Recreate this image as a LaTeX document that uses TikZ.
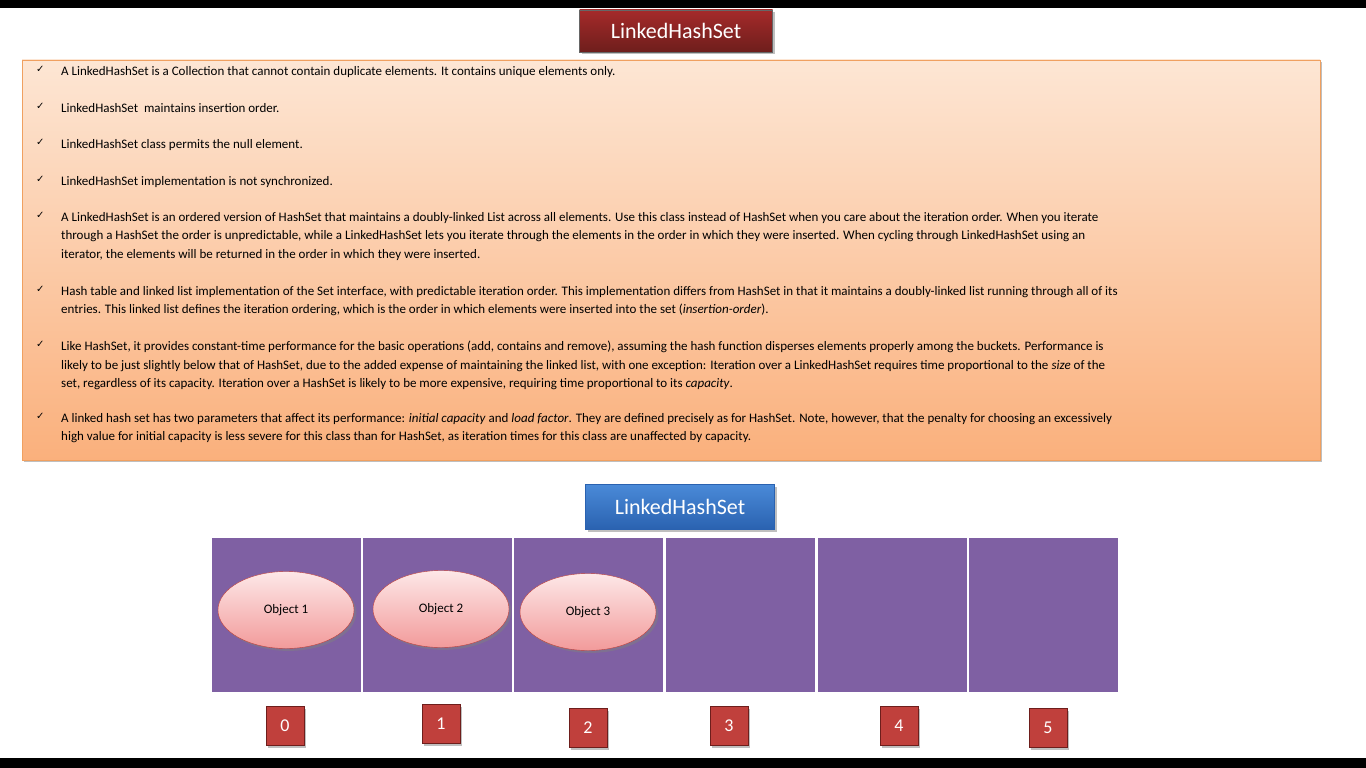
\documentclass[tikz,border=0pt]{standalone}
\usepackage{fontspec}
\setmainfont{Carlito}
\newfontfamily\symfont{DejaVu Sans}
\usetikzlibrary{shapes.geometric,shadows}
\definecolor{peachT}{HTML}{FDE6D4}
\definecolor{peachB}{HTML}{FAB07C}
\definecolor{peachE}{HTML}{F0A060}
\definecolor{redT}{HTML}{A52A2A}
\definecolor{redB}{HTML}{6E1E1C}
\definecolor{blueT}{HTML}{4A8AD8}
\definecolor{blueB}{HTML}{2A62B0}
\definecolor{purp}{HTML}{7F60A3}
\definecolor{pinkT}{HTML}{FDE8E8}
\definecolor{pinkB}{HTML}{F29A9A}
\definecolor{numred}{HTML}{C0403C}
\tikzset{
  titlebox/.style={draw=black!60,top color=redT,bottom color=redB,text=white,font=\fontsize{22}{26}\selectfont,minimum width=193pt,minimum height=42pt,inner sep=0pt,drop shadow},
  bluebox/.style={draw=blueB,top color=blueT,bottom color=blueB,text=white,font=\fontsize{22}{26}\selectfont,minimum width=189pt,minimum height=45pt,inner sep=0pt,drop shadow},
  bul/.style={anchor=north west,align=left,inner sep=0pt,font=\fontsize{13}{18.5}\selectfont},
  chk/.style={anchor=north west,inner sep=0pt,font=\symfont\fontsize{10}{18.5}\selectfont},
  cell/.style={fill=purp,draw=white,line width=1.5pt,minimum width=151pt,minimum height=156pt,anchor=north west,inner sep=0pt},
  obj/.style={ellipse,draw=numred,top color=pinkT,bottom color=pinkB,minimum width=136pt,minimum height=77pt,font=\fontsize{13}{15}\selectfont,inner sep=0pt,drop shadow},
  num/.style={fill=numred,draw=redB,text=white,minimum width=38pt,minimum height=39pt,inner sep=0pt,font=\fontsize{18}{20}\selectfont,drop shadow}
}
\begin{document}
\begin{tikzpicture}[x=1pt,y=-1pt]
\useasboundingbox (0,0) rectangle (1366,768);
\fill[white] (0,0) rectangle (1366,768);
\fill[black] (0,0) rectangle (1366,8);
\fill[black] (0,758) rectangle (1366,768);
\node[titlebox] (t1) at (676,31) {LinkedHashSet};
\shade[top color=peachT,bottom color=peachB,draw=peachE,drop shadow] (22,60) rectangle (1320,460);
\foreach \y in {66,103,139,176,212,286,341,413} {\node[chk] at (36,\y) {✓};}
\node[bul] (b1) at (61,66) {A LinkedHashSet is a Collection that cannot contain duplicate elements. It contains unique elements only.};
\node[bul] (b2) at (61,103) {LinkedHashSet\ \ maintains insertion order.};
\node[bul] (b3) at (61,139) {LinkedHashSet class permits the null element.};
\node[bul] (b4) at (61,176) {LinkedHashSet implementation is not synchronized.};
\node[bul] (b5) at (61,212) {A LinkedHashSet is an ordered version of HashSet that maintains a doubly-linked List across all elements. Use this class instead of HashSet when you care about the iteration order. When you iterate\\through a HashSet the order is unpredictable, while a LinkedHashSet lets you iterate through the elements in the order in which they were inserted. When cycling through LinkedHashSet using an\\iterator, the elements will be returned in the order in which they were inserted.};
\node[bul] (b6) at (61,286) {Hash table and linked list implementation of the Set interface, with predictable iteration order. This implementation differs from HashSet in that it maintains a doubly-linked list running through all of its\\entries. This linked list defines the iteration ordering, which is the order in which elements were inserted into the set (\textit{insertion-order}).};
\node[bul] (b7) at (61,341) {Like HashSet, it provides constant-time performance for the basic operations (add, contains and remove), assuming the hash function disperses elements properly among the buckets. Performance is\\likely to be just slightly below that of HashSet, due to the added expense of maintaining the linked list, with one exception: Iteration over a LinkedHashSet requires time proportional to the \textit{size} of the\\set, regardless of its capacity. Iteration over a HashSet is likely to be more expensive, requiring time proportional to its \textit{capacity}.};
\node[bul] (b8) at (61,413) {A linked hash set has two parameters that affect its performance: \textit{initial capacity} and \textit{load factor}. They are defined precisely as for HashSet. Note, however, that the penalty for choosing an excessively\\high value for initial capacity is less severe for this class than for HashSet, as iteration times for this class are unaffected by capacity.};
\node[bluebox] (t2) at (680,507) {LinkedHashSet};
\foreach \i/\x in {0/210,1/361,2/512,3/664,4/816,5/967} {\node[cell] (c\i) at (\x,536) {};}
\node[obj] (o1) at (286,610) {Object 1};
\node[obj] (o2) at (441,609) {Object 2};
\node[obj] (o3) at (588,612) {Object 3};
\node[num] (n0) at (285,726) {0};
\node[num] (n1) at (441,724) {1};
\node[num] (n2) at (588,728) {2};
\node[num] (n3) at (729,726) {3};
\node[num] (n4) at (899,726) {4};
\node[num] (n5) at (1048,728) {5};
\end{tikzpicture}
\end{document}
